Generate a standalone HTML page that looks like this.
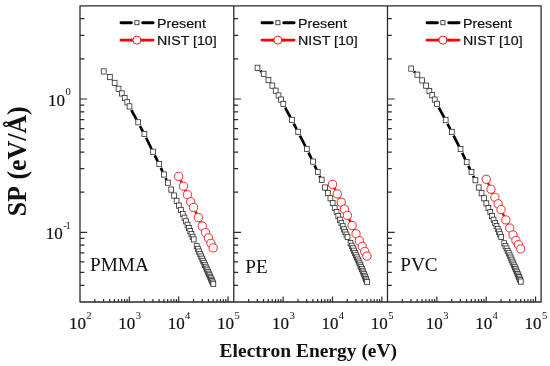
<!DOCTYPE html>
<html><head><meta charset="utf-8"><title>SP vs Electron Energy</title>
<style>html,body{margin:0;padding:0;background:#fff}svg{display:block}text{fill:#111}.s{font-family:"Liberation Serif",serif}.a{font-family:"Liberation Sans",sans-serif}</style></head><body>
<svg width="550" height="366" viewBox="0 0 550 366">
<rect width="550" height="366" fill="#fff"/>
<path d="M80.00 285.34h4.3 M80.00 272.42h4.3 M80.00 261.87h4.3 M80.00 252.94h4.3 M80.00 245.21h4.3 M80.00 238.39h4.3 M80.00 232.29h7.2 M80.00 192.16h4.3 M80.00 168.69h4.3 M80.00 152.03h4.3 M80.00 139.11h4.3 M80.00 128.56h4.3 M80.00 119.63h4.3 M80.00 111.90h4.3 M80.00 105.08h4.3 M80.00 98.98h7.2 M80.00 58.85h4.3 M80.00 35.38h4.3 M80.00 18.72h4.3 M94.86 302.00v-2.9 M103.55 302.00v-2.9 M109.71 302.00v-2.9 M114.49 302.00v-2.9 M118.40 302.00v-2.9 M121.71 302.00v-2.9 M124.57 302.00v-2.9 M127.09 302.00v-2.9 M129.35 302.00v-5.6 M144.21 302.00v-2.9 M152.90 302.00v-2.9 M159.06 302.00v-2.9 M163.84 302.00v-2.9 M167.75 302.00v-2.9 M171.06 302.00v-2.9 M173.92 302.00v-2.9 M176.44 302.00v-2.9 M178.70 302.00v-5.6 M193.56 302.00v-2.9 M202.25 302.00v-2.9 M208.41 302.00v-2.9 M213.19 302.00v-2.9 M217.10 302.00v-2.9 M220.41 302.00v-2.9 M223.27 302.00v-2.9 M225.79 302.00v-2.9 M228.05 302.00v-5.6 M233.80 285.34h4.3 M233.80 272.42h4.3 M233.80 261.87h4.3 M233.80 252.94h4.3 M233.80 245.21h4.3 M233.80 238.39h4.3 M233.80 232.29h7.2 M233.80 192.16h4.3 M233.80 168.69h4.3 M233.80 152.03h4.3 M233.80 139.11h4.3 M233.80 128.56h4.3 M233.80 119.63h4.3 M233.80 111.90h4.3 M233.80 105.08h4.3 M233.80 98.98h7.2 M233.80 58.85h4.3 M233.80 35.38h4.3 M233.80 18.72h4.3 M248.66 302.00v-2.9 M257.35 302.00v-2.9 M263.51 302.00v-2.9 M268.29 302.00v-2.9 M272.20 302.00v-2.9 M275.51 302.00v-2.9 M278.37 302.00v-2.9 M280.89 302.00v-2.9 M283.15 302.00v-5.6 M298.01 302.00v-2.9 M306.70 302.00v-2.9 M312.86 302.00v-2.9 M317.64 302.00v-2.9 M321.55 302.00v-2.9 M324.86 302.00v-2.9 M327.72 302.00v-2.9 M330.24 302.00v-2.9 M332.50 302.00v-5.6 M347.36 302.00v-2.9 M356.05 302.00v-2.9 M362.21 302.00v-2.9 M366.99 302.00v-2.9 M370.90 302.00v-2.9 M374.21 302.00v-2.9 M377.07 302.00v-2.9 M379.59 302.00v-2.9 M381.85 302.00v-5.6 M387.50 285.34h4.3 M387.50 272.42h4.3 M387.50 261.87h4.3 M387.50 252.94h4.3 M387.50 245.21h4.3 M387.50 238.39h4.3 M387.50 232.29h7.2 M387.50 192.16h4.3 M387.50 168.69h4.3 M387.50 152.03h4.3 M387.50 139.11h4.3 M387.50 128.56h4.3 M387.50 119.63h4.3 M387.50 111.90h4.3 M387.50 105.08h4.3 M387.50 98.98h7.2 M387.50 58.85h4.3 M387.50 35.38h4.3 M387.50 18.72h4.3 M402.36 302.00v-2.9 M411.05 302.00v-2.9 M417.21 302.00v-2.9 M421.99 302.00v-2.9 M425.90 302.00v-2.9 M429.21 302.00v-2.9 M432.07 302.00v-2.9 M434.59 302.00v-2.9 M436.85 302.00v-5.6 M451.71 302.00v-2.9 M460.40 302.00v-2.9 M466.56 302.00v-2.9 M471.34 302.00v-2.9 M475.25 302.00v-2.9 M478.56 302.00v-2.9 M481.42 302.00v-2.9 M483.94 302.00v-2.9 M486.20 302.00v-5.6 M501.06 302.00v-2.9 M509.75 302.00v-2.9 M515.91 302.00v-2.9 M520.69 302.00v-2.9 M524.60 302.00v-2.9 M527.91 302.00v-2.9 M530.77 302.00v-2.9 M533.29 302.00v-2.9 M535.55 302.00v-5.6" stroke="#2a2a2a" stroke-width="1.2" fill="none"/>
<path d="M131.36 110.09L136.60 119.67 M140.00 126.02L142.81 131.35 M146.06 137.77L151.57 149.01 M154.78 155.45L157.72 161.32 M160.80 167.82L162.60 171.77 M165.65 178.29L166.46 180.02" stroke="#000" stroke-width="2.7" fill="none"/>
<g fill="#fff" stroke="#2b2b2b" stroke-width="0.8">
<rect x="101.30" y="68.85" width="4.8" height="5.2"/>
<rect x="107.46" y="74.50" width="4.8" height="5.2"/>
<rect x="112.24" y="80.30" width="4.8" height="5.2"/>
<rect x="116.15" y="86.20" width="4.8" height="5.2"/>
<rect x="119.46" y="90.85" width="4.8" height="5.2"/>
<rect x="122.32" y="95.40" width="4.8" height="5.2"/>
<rect x="124.84" y="99.70" width="4.8" height="5.2"/>
<rect x="127.10" y="103.80" width="4.8" height="5.2"/>
<rect x="135.79" y="119.70" width="4.8" height="5.2"/>
<rect x="141.96" y="131.40" width="4.8" height="5.2"/>
<rect x="150.65" y="149.10" width="4.8" height="5.2"/>
<rect x="156.81" y="161.40" width="4.8" height="5.2"/>
<rect x="161.59" y="171.90" width="4.8" height="5.2"/>
<rect x="165.50" y="180.13" width="4.8" height="5.2"/>
<rect x="168.81" y="187.00" width="4.8" height="5.2"/>
<rect x="171.67" y="192.97" width="4.8" height="5.2"/>
<rect x="174.19" y="198.24" width="4.8" height="5.2"/>
<rect x="176.45" y="203.00" width="4.8" height="5.2"/>
<rect x="178.49" y="207.33" width="4.8" height="5.2"/>
<rect x="180.36" y="211.33" width="4.8" height="5.2"/>
<rect x="182.07" y="215.10" width="4.8" height="5.2"/>
<rect x="183.66" y="218.72" width="4.8" height="5.2"/>
<rect x="185.14" y="222.19" width="4.8" height="5.2"/>
<rect x="186.52" y="225.48" width="4.8" height="5.2"/>
<rect x="187.82" y="228.59" width="4.8" height="5.2"/>
<rect x="189.05" y="231.51" width="4.8" height="5.2"/>
<rect x="190.21" y="234.24" width="4.8" height="5.2"/>
<rect x="191.31" y="236.80" width="4.8" height="5.2"/>
<rect x="194.30" y="243.60" width="4.8" height="5.2"/>
<rect x="195.52" y="246.37" width="4.8" height="5.2"/>
<rect x="196.68" y="249.00" width="4.8" height="5.2"/>
<rect x="197.78" y="251.48" width="4.8" height="5.2"/>
<rect x="198.82" y="253.85" width="4.8" height="5.2"/>
<rect x="199.82" y="256.11" width="4.8" height="5.2"/>
<rect x="200.77" y="258.26" width="4.8" height="5.2"/>
<rect x="201.68" y="260.33" width="4.8" height="5.2"/>
<rect x="202.55" y="262.30" width="4.8" height="5.2"/>
<rect x="203.39" y="264.21" width="4.8" height="5.2"/>
<rect x="204.20" y="266.04" width="4.8" height="5.2"/>
<rect x="204.98" y="267.80" width="4.8" height="5.2"/>
<rect x="205.73" y="269.50" width="4.8" height="5.2"/>
<rect x="206.45" y="271.14" width="4.8" height="5.2"/>
<rect x="207.16" y="272.73" width="4.8" height="5.2"/>
<rect x="207.84" y="274.27" width="4.8" height="5.2"/>
<rect x="208.49" y="275.76" width="4.8" height="5.2"/>
<rect x="209.13" y="277.21" width="4.8" height="5.2"/>
<rect x="209.75" y="278.61" width="4.8" height="5.2"/>
<rect x="210.36" y="279.97" width="4.8" height="5.2"/>
<rect x="210.94" y="281.30" width="4.8" height="5.2"/>
</g>
<polyline points="178.70,176.40 183.48,186.20 187.39,194.75 190.69,201.80 193.56,207.50 198.34,217.60 202.25,226.10 205.55,232.70 208.41,237.90 210.94,243.30 213.19,247.90" stroke="#f00" stroke-width="2.4" fill="none"/>
<g fill="#fff" stroke="#f52222" stroke-width="0.95">
<circle cx="178.70" cy="176.40" r="4.1"/>
<circle cx="183.48" cy="186.20" r="4.1"/>
<circle cx="187.39" cy="194.75" r="4.1"/>
<circle cx="190.69" cy="201.80" r="4.1"/>
<circle cx="193.56" cy="207.50" r="4.1"/>
<circle cx="198.34" cy="217.60" r="4.1"/>
<circle cx="202.25" cy="226.10" r="4.1"/>
<circle cx="205.55" cy="232.70" r="4.1"/>
<circle cx="208.41" cy="237.90" r="4.1"/>
<circle cx="210.94" cy="243.30" r="4.1"/>
<circle cx="213.19" cy="247.90" r="4.1"/>
</g>
<path d="M260.34 70.74L261.37 71.75 M285.15 107.59L290.41 117.26 M293.76 123.64L296.63 129.23 M299.92 135.64L305.33 146.23 M308.53 152.68L311.55 158.90 M314.62 165.42L316.39 169.27 M319.53 175.76L320.21 177.12" stroke="#000" stroke-width="2.7" fill="none"/>
<g fill="#fff" stroke="#2b2b2b" stroke-width="0.8">
<rect x="255.10" y="65.20" width="4.8" height="5.2"/>
<rect x="261.26" y="71.25" width="4.8" height="5.2"/>
<rect x="266.04" y="77.50" width="4.8" height="5.2"/>
<rect x="269.95" y="83.05" width="4.8" height="5.2"/>
<rect x="273.26" y="88.10" width="4.8" height="5.2"/>
<rect x="276.12" y="92.90" width="4.8" height="5.2"/>
<rect x="278.64" y="97.00" width="4.8" height="5.2"/>
<rect x="280.90" y="101.30" width="4.8" height="5.2"/>
<rect x="289.59" y="117.30" width="4.8" height="5.2"/>
<rect x="295.76" y="129.30" width="4.8" height="5.2"/>
<rect x="304.45" y="146.30" width="4.8" height="5.2"/>
<rect x="310.61" y="159.00" width="4.8" height="5.2"/>
<rect x="315.39" y="169.40" width="4.8" height="5.2"/>
<rect x="319.30" y="177.20" width="4.8" height="5.2"/>
<rect x="322.61" y="184.90" width="4.8" height="5.2"/>
<rect x="325.47" y="190.50" width="4.8" height="5.2"/>
<rect x="327.99" y="195.70" width="4.8" height="5.2"/>
<rect x="330.25" y="200.40" width="4.8" height="5.2"/>
<rect x="332.29" y="205.35" width="4.8" height="5.2"/>
<rect x="334.16" y="209.40" width="4.8" height="5.2"/>
<rect x="335.87" y="213.50" width="4.8" height="5.2"/>
<rect x="337.46" y="217.15" width="4.8" height="5.2"/>
<rect x="338.94" y="220.40" width="4.8" height="5.2"/>
<rect x="340.32" y="223.70" width="4.8" height="5.2"/>
<rect x="341.62" y="226.70" width="4.8" height="5.2"/>
<rect x="342.85" y="229.30" width="4.8" height="5.2"/>
<rect x="344.01" y="232.00" width="4.8" height="5.2"/>
<rect x="345.11" y="234.40" width="4.8" height="5.2"/>
<rect x="348.10" y="240.55" width="4.8" height="5.2"/>
<rect x="349.32" y="243.20" width="4.8" height="5.2"/>
<rect x="350.48" y="245.72" width="4.8" height="5.2"/>
<rect x="351.58" y="248.14" width="4.8" height="5.2"/>
<rect x="352.62" y="250.47" width="4.8" height="5.2"/>
<rect x="353.62" y="252.70" width="4.8" height="5.2"/>
<rect x="354.57" y="254.86" width="4.8" height="5.2"/>
<rect x="355.48" y="256.95" width="4.8" height="5.2"/>
<rect x="356.35" y="258.97" width="4.8" height="5.2"/>
<rect x="357.19" y="260.93" width="4.8" height="5.2"/>
<rect x="358.00" y="262.83" width="4.8" height="5.2"/>
<rect x="358.78" y="264.68" width="4.8" height="5.2"/>
<rect x="359.53" y="266.49" width="4.8" height="5.2"/>
<rect x="360.25" y="268.25" width="4.8" height="5.2"/>
<rect x="360.96" y="269.96" width="4.8" height="5.2"/>
<rect x="361.64" y="271.64" width="4.8" height="5.2"/>
<rect x="362.29" y="273.28" width="4.8" height="5.2"/>
<rect x="362.93" y="274.88" width="4.8" height="5.2"/>
<rect x="363.55" y="276.45" width="4.8" height="5.2"/>
<rect x="364.16" y="277.99" width="4.8" height="5.2"/>
<rect x="364.74" y="279.50" width="4.8" height="5.2"/>
</g>
<polyline points="332.50,184.30 337.28,193.90 341.19,202.20 344.49,209.10 347.36,215.30 352.14,225.60 356.05,233.80 359.35,240.80 362.21,246.40 364.74,251.50 366.99,256.10" stroke="#f00" stroke-width="2.4" fill="none"/>
<g fill="#fff" stroke="#f52222" stroke-width="0.95">
<circle cx="332.50" cy="184.30" r="4.1"/>
<circle cx="337.28" cy="193.90" r="4.1"/>
<circle cx="341.19" cy="202.20" r="4.1"/>
<circle cx="344.49" cy="209.10" r="4.1"/>
<circle cx="347.36" cy="215.30" r="4.1"/>
<circle cx="352.14" cy="225.60" r="4.1"/>
<circle cx="356.05" cy="233.80" r="4.1"/>
<circle cx="359.35" cy="240.80" r="4.1"/>
<circle cx="362.21" cy="246.40" r="4.1"/>
<circle cx="364.74" cy="251.50" r="4.1"/>
<circle cx="366.99" cy="256.10" r="4.1"/>
</g>
<path d="M414.03 71.55L415.08 72.59 M438.84 107.60L444.12 117.46 M447.49 123.82L450.32 129.24 M453.60 135.65L459.04 146.37 M462.19 152.85L465.28 159.39 M468.39 165.88L470.04 169.30 M473.15 175.79L473.96 177.49" stroke="#000" stroke-width="2.7" fill="none"/>
<g fill="#fff" stroke="#2b2b2b" stroke-width="0.8">
<rect x="408.80" y="66.00" width="4.8" height="5.2"/>
<rect x="414.96" y="72.10" width="4.8" height="5.2"/>
<rect x="419.74" y="77.80" width="4.8" height="5.2"/>
<rect x="423.65" y="83.05" width="4.8" height="5.2"/>
<rect x="426.96" y="88.50" width="4.8" height="5.2"/>
<rect x="429.82" y="92.60" width="4.8" height="5.2"/>
<rect x="432.34" y="97.00" width="4.8" height="5.2"/>
<rect x="434.60" y="101.30" width="4.8" height="5.2"/>
<rect x="443.29" y="117.50" width="4.8" height="5.2"/>
<rect x="449.46" y="129.30" width="4.8" height="5.2"/>
<rect x="458.15" y="146.45" width="4.8" height="5.2"/>
<rect x="464.31" y="159.50" width="4.8" height="5.2"/>
<rect x="469.09" y="169.40" width="4.8" height="5.2"/>
<rect x="473.00" y="177.60" width="4.8" height="5.2"/>
<rect x="476.31" y="184.90" width="4.8" height="5.2"/>
<rect x="479.17" y="190.65" width="4.8" height="5.2"/>
<rect x="481.69" y="195.70" width="4.8" height="5.2"/>
<rect x="483.95" y="200.80" width="4.8" height="5.2"/>
<rect x="485.99" y="205.40" width="4.8" height="5.2"/>
<rect x="487.86" y="209.40" width="4.8" height="5.2"/>
<rect x="489.57" y="213.50" width="4.8" height="5.2"/>
<rect x="491.16" y="217.15" width="4.8" height="5.2"/>
<rect x="492.64" y="220.40" width="4.8" height="5.2"/>
<rect x="494.02" y="223.40" width="4.8" height="5.2"/>
<rect x="495.32" y="226.30" width="4.8" height="5.2"/>
<rect x="496.55" y="229.10" width="4.8" height="5.2"/>
<rect x="497.71" y="231.70" width="4.8" height="5.2"/>
<rect x="498.81" y="234.40" width="4.8" height="5.2"/>
<rect x="501.80" y="240.70" width="4.8" height="5.2"/>
<rect x="503.02" y="243.37" width="4.8" height="5.2"/>
<rect x="504.18" y="245.91" width="4.8" height="5.2"/>
<rect x="505.28" y="248.33" width="4.8" height="5.2"/>
<rect x="506.32" y="250.65" width="4.8" height="5.2"/>
<rect x="507.32" y="252.88" width="4.8" height="5.2"/>
<rect x="508.27" y="255.02" width="4.8" height="5.2"/>
<rect x="509.18" y="257.08" width="4.8" height="5.2"/>
<rect x="510.05" y="259.08" width="4.8" height="5.2"/>
<rect x="510.89" y="261.00" width="4.8" height="5.2"/>
<rect x="511.70" y="262.87" width="4.8" height="5.2"/>
<rect x="512.48" y="264.68" width="4.8" height="5.2"/>
<rect x="513.23" y="266.44" width="4.8" height="5.2"/>
<rect x="513.95" y="268.15" width="4.8" height="5.2"/>
<rect x="514.66" y="269.82" width="4.8" height="5.2"/>
<rect x="515.34" y="271.44" width="4.8" height="5.2"/>
<rect x="515.99" y="273.03" width="4.8" height="5.2"/>
<rect x="516.63" y="274.57" width="4.8" height="5.2"/>
<rect x="517.25" y="276.08" width="4.8" height="5.2"/>
<rect x="517.86" y="277.56" width="4.8" height="5.2"/>
<rect x="518.44" y="279.00" width="4.8" height="5.2"/>
</g>
<polyline points="486.20,179.30 490.98,189.20 494.89,197.35 498.19,203.85 501.06,209.60 505.84,219.90 509.75,228.00 513.05,234.90 515.91,240.50 518.44,244.70 520.69,248.85" stroke="#f00" stroke-width="2.4" fill="none"/>
<g fill="#fff" stroke="#f52222" stroke-width="0.95">
<circle cx="486.20" cy="179.30" r="4.1"/>
<circle cx="490.98" cy="189.20" r="4.1"/>
<circle cx="494.89" cy="197.35" r="4.1"/>
<circle cx="498.19" cy="203.85" r="4.1"/>
<circle cx="501.06" cy="209.60" r="4.1"/>
<circle cx="505.84" cy="219.90" r="4.1"/>
<circle cx="509.75" cy="228.00" r="4.1"/>
<circle cx="513.05" cy="234.90" r="4.1"/>
<circle cx="515.91" cy="240.50" r="4.1"/>
<circle cx="518.44" cy="244.70" r="4.1"/>
<circle cx="520.69" cy="248.85" r="4.1"/>
</g>
<rect x="80.0" y="5.8" width="461.10" height="296.20" fill="none" stroke="#2a2a2a" stroke-width="1.3" stroke-linejoin="round"/>
<path d="M233.8 5.8V302.0M387.5 5.8V302.0" stroke="#2a2a2a" stroke-width="1.3" fill="none"/>
<path d="M121.00 22.7H131.40M142.70 22.7H153.10" stroke="#000" stroke-width="2.9" stroke-linecap="round" fill="none"/>
<path d="M121.00 40.1H131.40M142.70 40.1H153.10" stroke="#f00" stroke-width="2.9" stroke-linecap="round" fill="none"/>
<rect x="134.85" y="20.65" width="4.1" height="4.1" fill="#fff" stroke="#333" stroke-width="0.9"/>
<path d="M130.80 40.1H143.30" stroke="#f00" stroke-width="2.9"/>
<circle cx="136.90" cy="40.1" r="4.0" fill="#fff" stroke="#f21d1d" stroke-width="1"/>
<text class="a" transform="translate(157.00 27.50) scale(1.045 1)" font-size="13.6" text-anchor="start" font-weight="normal" stroke="#111" stroke-width="0.2">Present</text>
<text class="a" transform="translate(157.00 45.00) scale(1.045 1)" font-size="13.6" text-anchor="start" font-weight="normal" stroke="#111" stroke-width="0.2">NIST [10]</text>
<path d="M262.00 22.7H272.40M283.70 22.7H294.10" stroke="#000" stroke-width="2.9" stroke-linecap="round" fill="none"/>
<path d="M262.00 40.1H272.40M283.70 40.1H294.10" stroke="#f00" stroke-width="2.9" stroke-linecap="round" fill="none"/>
<rect x="275.85" y="20.65" width="4.1" height="4.1" fill="#fff" stroke="#333" stroke-width="0.9"/>
<path d="M271.80 40.1H284.30" stroke="#f00" stroke-width="2.9"/>
<circle cx="277.90" cy="40.1" r="4.0" fill="#fff" stroke="#f21d1d" stroke-width="1"/>
<text class="a" transform="translate(298.00 27.50) scale(1.045 1)" font-size="13.6" text-anchor="start" font-weight="normal" stroke="#111" stroke-width="0.2">Present</text>
<text class="a" transform="translate(298.00 45.00) scale(1.045 1)" font-size="13.6" text-anchor="start" font-weight="normal" stroke="#111" stroke-width="0.2">NIST [10]</text>
<path d="M427.00 22.7H437.40M448.70 22.7H459.10" stroke="#000" stroke-width="2.9" stroke-linecap="round" fill="none"/>
<path d="M427.00 40.1H437.40M448.70 40.1H459.10" stroke="#f00" stroke-width="2.9" stroke-linecap="round" fill="none"/>
<rect x="440.85" y="20.65" width="4.1" height="4.1" fill="#fff" stroke="#333" stroke-width="0.9"/>
<path d="M436.80 40.1H449.30" stroke="#f00" stroke-width="2.9"/>
<circle cx="442.90" cy="40.1" r="4.0" fill="#fff" stroke="#f21d1d" stroke-width="1"/>
<text class="a" transform="translate(463.00 27.50) scale(1.045 1)" font-size="13.6" text-anchor="start" font-weight="normal" stroke="#111" stroke-width="0.2">Present</text>
<text class="a" transform="translate(463.00 45.00) scale(1.045 1)" font-size="13.6" text-anchor="start" font-weight="normal" stroke="#111" stroke-width="0.2">NIST [10]</text>
<text class="s" transform="translate(90.00 270.80) scale(1.04 1)" font-size="18.5" text-anchor="start" font-weight="normal">PMMA</text>
<text class="s" transform="translate(245.20 272.80) scale(1.04 1)" font-size="18.5" text-anchor="start" font-weight="normal">PE</text>
<text class="s" transform="translate(400.20 271.30) scale(1.04 1)" font-size="18.5" text-anchor="start" font-weight="normal">PVC</text>
<text class="s" transform="translate(68.93 329.10) scale(0.985 1)" font-size="17.3" stroke="#111" stroke-width="0.2">10</text>
<text class="s" x="86.37" y="318.90" font-size="10.6">2</text>
<text class="s" transform="translate(118.28 329.10) scale(0.985 1)" font-size="17.3" stroke="#111" stroke-width="0.2">10</text>
<text class="s" x="135.72" y="318.90" font-size="10.6">3</text>
<text class="s" transform="translate(167.63 329.10) scale(0.985 1)" font-size="17.3" stroke="#111" stroke-width="0.2">10</text>
<text class="s" x="185.07" y="318.90" font-size="10.6">4</text>
<text class="s" transform="translate(216.98 329.10) scale(0.985 1)" font-size="17.3" stroke="#111" stroke-width="0.2">10</text>
<text class="s" x="234.42" y="318.90" font-size="10.6">5</text>
<text class="s" transform="translate(272.08 329.10) scale(0.985 1)" font-size="17.3" stroke="#111" stroke-width="0.2">10</text>
<text class="s" x="289.52" y="318.90" font-size="10.6">3</text>
<text class="s" transform="translate(321.43 329.10) scale(0.985 1)" font-size="17.3" stroke="#111" stroke-width="0.2">10</text>
<text class="s" x="338.87" y="318.90" font-size="10.6">4</text>
<text class="s" transform="translate(370.78 329.10) scale(0.985 1)" font-size="17.3" stroke="#111" stroke-width="0.2">10</text>
<text class="s" x="388.22" y="318.90" font-size="10.6">5</text>
<text class="s" transform="translate(425.78 329.10) scale(0.985 1)" font-size="17.3" stroke="#111" stroke-width="0.2">10</text>
<text class="s" x="443.22" y="318.90" font-size="10.6">3</text>
<text class="s" transform="translate(475.13 329.10) scale(0.985 1)" font-size="17.3" stroke="#111" stroke-width="0.2">10</text>
<text class="s" x="492.57" y="318.90" font-size="10.6">4</text>
<text class="s" transform="translate(524.48 329.10) scale(0.985 1)" font-size="17.3" stroke="#111" stroke-width="0.2">10</text>
<text class="s" x="541.92" y="318.90" font-size="10.6">5</text>
<text class="s" transform="translate(48.11 105.58) scale(0.985 1)" font-size="17.3" stroke="#111" stroke-width="0.2">10</text>
<text class="s" x="65.55" y="95.38" font-size="10.6">0</text>
<text class="s" transform="translate(45.73 238.99) scale(0.985 1)" font-size="17.3" stroke="#111" stroke-width="0.2">10</text>
<text class="s" x="63.17" y="228.79" font-size="10.6" letter-spacing="-1.3">-1</text>
<text class="s" transform="translate(219.6 357.3) scale(1.037 1)" font-size="18.8" font-weight="bold" style="font-kerning:none">Electron Energy (eV)</text>
<text class="s" transform="translate(26.4 216.25) rotate(-90) scale(1 1.035)" font-size="25.9" font-weight="bold" style="font-kerning:none">SP (eV/Å)</text>
</svg></body></html>
